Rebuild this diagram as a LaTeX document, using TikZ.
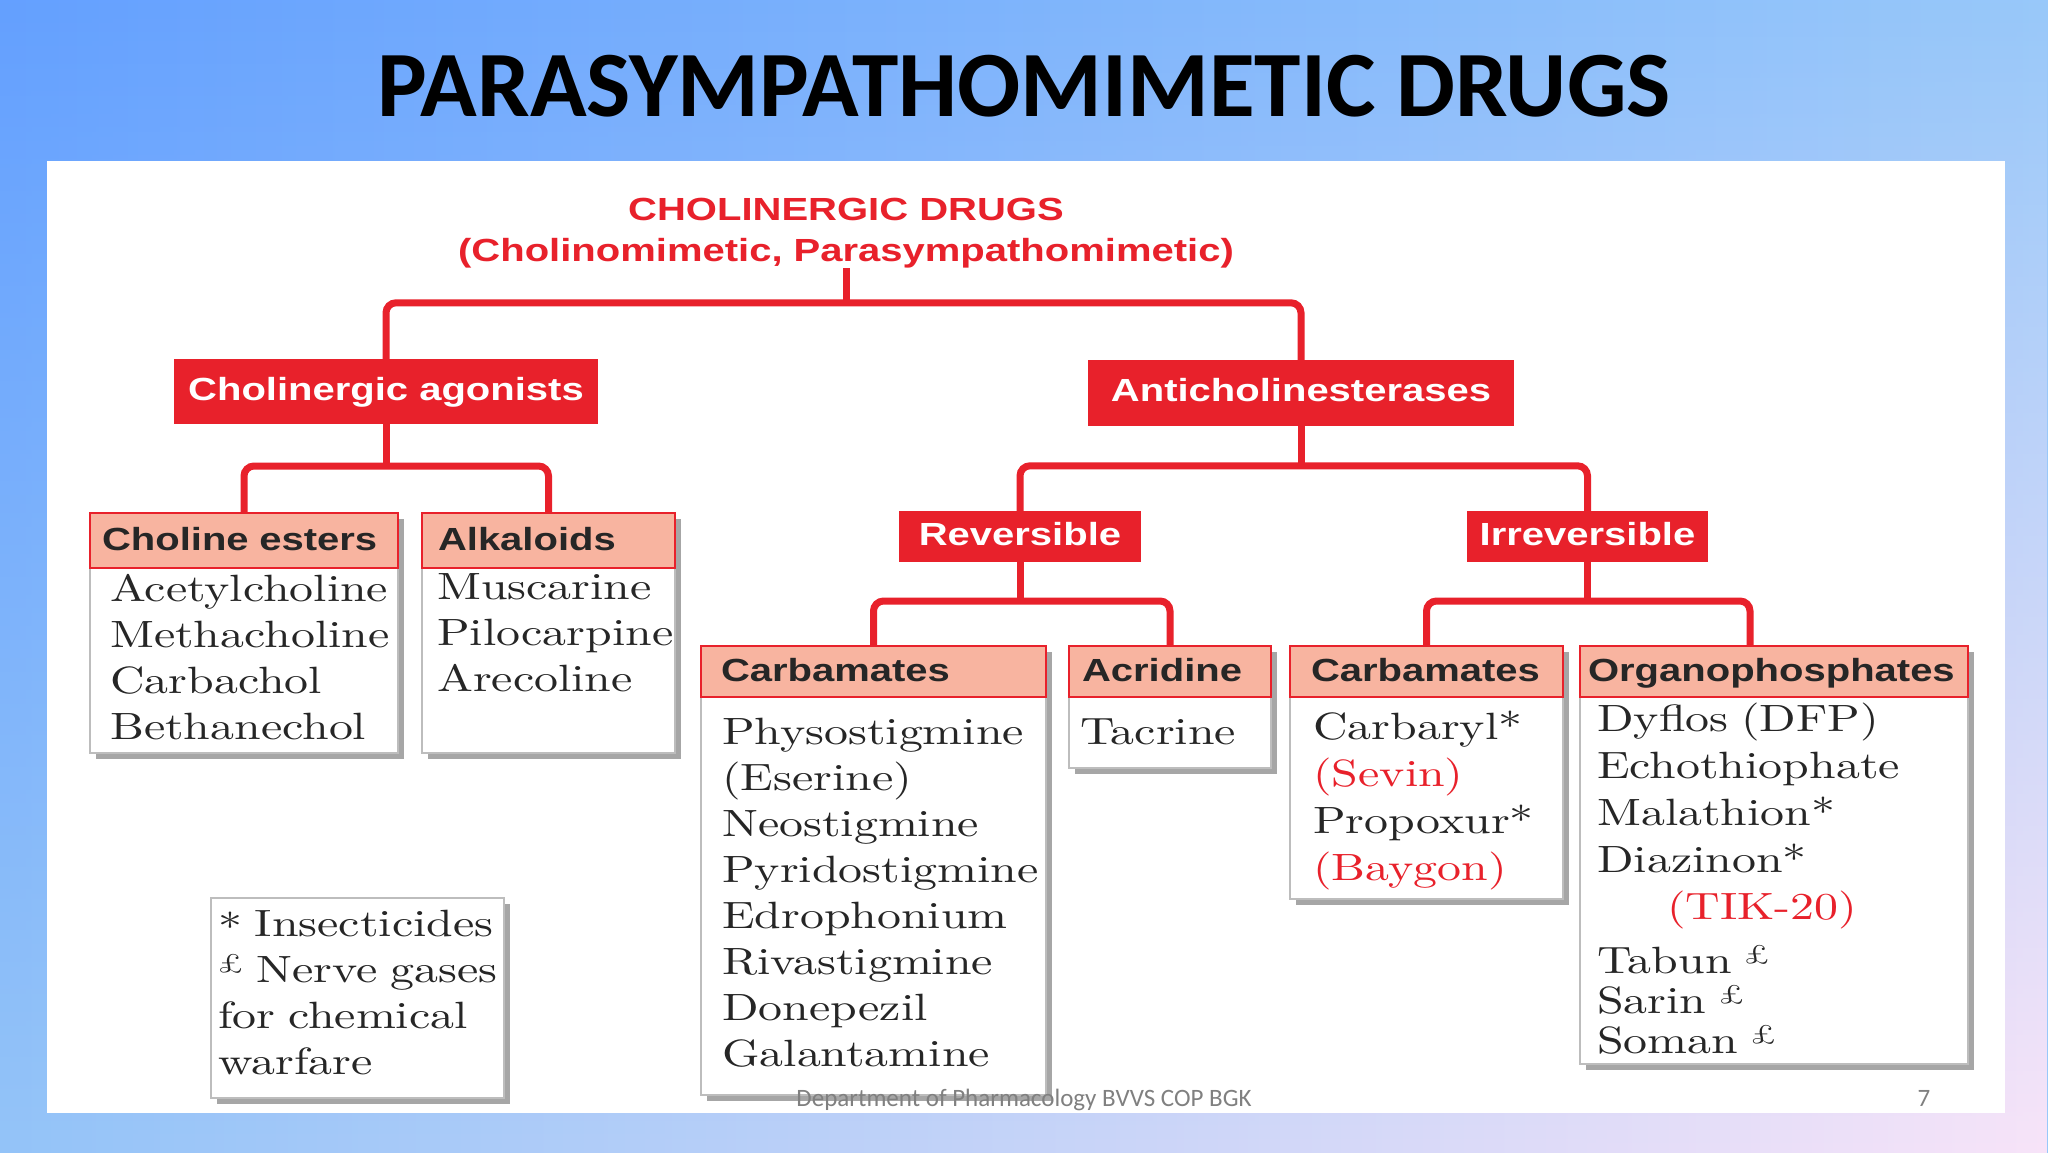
\documentclass[tikz,border=0pt]{standalone}
\usepackage{fontspec}
\usetikzlibrary{shadows,fadings}
\newfontfamily\slidefont{Carlito}
\newfontfamily\boxsans{Liberation Sans}[FakeStretch=1.25]
\newfontfamily\boxserif{lmroman10-regular.otf}[FakeStretch=1.26]
\definecolor{tree}{HTML}{E8212B}
\definecolor{hdrfill}{HTML}{F8B4A0}
\definecolor{ink}{HTML}{262626}
\definecolor{frame}{HTML}{BDBDBD}
\definecolor{boxshade}{HTML}{A6A6A6}
\definecolor{bgUL}{HTML}{64A0FF}
\definecolor{bgUR}{HTML}{98C8FA}
\definecolor{bgLL}{HTML}{94C4F8}
\definecolor{bgLR}{HTML}{F8E4F8}
\tikzset{
  branch/.style={draw=tree,line width=7pt,rounded corners=10pt},
  mainhead/.style={fill=tree,text=white,inner sep=0pt,text height=24pt,text depth=7pt,
    font={\boxsans\bfseries\fontsize{32}{36}\selectfont}},
  subhead/.style={draw=tree,line width=2pt,fill=hdrfill,text=ink,anchor=north west,align=left,
    inner xsep=#1,inner ysep=0pt,minimum height=51pt,text height=25pt,text depth=5pt,
    font={\boxsans\bfseries\fontsize{32}{36}\selectfont}},
  listbox/.style={draw=frame,line width=2pt,fill=white,anchor=north west,inner sep=0pt,
    drop shadow={shadow xshift=6pt,shadow yshift=-6pt,fill=boxshade,opacity=1}},
  druglist/.style={anchor=base west,inner sep=0pt,align=left,text width=420pt,text=ink,
    font={\boxserif\fontsize{38}{46}\selectfont}}
}
\begin{document}
\begin{tikzpicture}[x=1pt,y=-1pt]
\useasboundingbox (0,0) rectangle (2048,1152);
\shade[left color=bgUL,right color=bgUR] (0,0) rectangle (2048,1152);
\shade[left color=bgLL,right color=bgLR,path fading=north] (0,0) rectangle (2048,1152);
\fill[white] (47,161) rectangle (2005,1113);
\node[anchor=base,font={\slidefont\bfseries\fontsize{93.5}{100}\selectfont}] (title) at (1024,116) {PARASYMPATHOMIMETIC DRUGS};

% root and first level
\node[anchor=south,inner sep=0pt,align=center,text=tree,font={\boxsans\bfseries\fontsize{32}{41}\selectfont}] (root) at (846,268)
  {CHOLINERGIC DRUGS\\(Cholinomimetic, Parasympathomimetic)};
\node[mainhead,minimum width=424pt,minimum height=65pt] (agon) at (386,391.5) {Cholinergic agonists};
\node[mainhead,minimum width=426pt,minimum height=66pt] (anti) at (1301,393) {Anticholinesterases};
\node[mainhead,minimum width=242pt,minimum height=51pt] (rev) at (1020,536.5) {Reversible};
\node[mainhead,minimum width=241pt,minimum height=51pt] (irr) at (1587.5,536.5) {Irreversible};

% boxes
\node[listbox,minimum width=308pt,minimum height=240pt] (chestbox) at (89,512) {};
\node[subhead=12pt,text width=284pt,minimum height=55pt] (chest) at (chestbox.north west) {Choline esters};
\node[listbox,minimum width=253pt,minimum height=240pt] (alkbox) at (421,512) {};
\node[subhead=16pt,text width=221pt,minimum height=55pt] (alk) at (alkbox.north west) {Alkaloids};
\node[listbox,minimum width=345pt,minimum height=449pt] (carbRbox) at (700,645) {};
\node[subhead=20pt,text width=305pt] (carbR) at (carbRbox.north west) {Carbamates};
\node[listbox,minimum width=202pt,minimum height=122pt] (acrbox) at (1068,645) {};
\node[subhead=13pt,text width=176pt] (acr) at (acrbox.north west) {Acridine};
\node[listbox,minimum width=273pt,minimum height=253pt] (carbIbox) at (1289,645) {};
\node[subhead=21pt,text width=231pt] (carbI) at (carbIbox.north west) {Carbamates};
\node[listbox,minimum width=388pt,minimum height=418pt] (orgbox) at (1579,645) {};
\node[subhead=8pt,text width=372pt] (org) at (orgbox.north west) {Organophosphates};
\node[listbox,minimum width=293pt,minimum height=200pt] (legendbox) at (210,897) {};

% lists
\node[druglist] (chestlist) at (110,601) {Acetylcholine\\Methacholine\\Carbachol\\Bethanechol};
\node[druglist] (alklist) at (437,599) {Muscarine\\Pilocarpine\\Arecoline};
\node[druglist] (carbRlist) at (722,744) {Physostigmine\\(Eserine)\\Neostigmine\\Pyridostigmine\\Edrophonium\\Rivastigmine\\Donepezil\\Galantamine};
\node[druglist] (acrlist) at (1080,744) {Tacrine};
\node[druglist,font={\boxserif\fontsize{38}{47}\selectfont}] (carbIlist) at (1313,739)
  {Carbaryl*\\\textcolor{tree}{(Sevin)}\\Propoxur*\\\textcolor{tree}{(Baygon)}};
\node[druglist,font={\boxserif\fontsize{38}{47}\selectfont}] (orglist) at (1597,731)
  {Dyflos (DFP)\\Echothiophate\\Malathion*\\Diazinon*\\\hspace*{70pt}\textcolor{tree}{(TIK-20)}};
\node[druglist,font={\boxserif\fontsize{38}{40}\selectfont}] (gaslist) at (1597,973)
  {Tabun \textsuperscript{£}\\Sarin \textsuperscript{£}\\Soman \textsuperscript{£}};
\node[druglist] (legend) at (218,936) {\raisebox{-4pt}{*} Insecticides\\\textsuperscript{£} Nerve gases\\for chemical\\warfare};

% tree
\draw[branch] (root.south) -- ++(0,35);
\draw[branch] (agon.north) -- ++(0,-56) -| (anti.north);
\draw[branch] (agon.south) -- ++(0,42);
\draw[branch] (chest.north) -- ++(0,-46) -| (alk.north);
\draw[branch] (anti.south) -- ++(0,40);
\draw[branch] (rev.north) -- ++(0,-45) -| (irr.north);
\draw[branch] (rev.south) -- ++(0,39);
\draw[branch] (carbR.north) -- ++(0,-44) -| (acr.north);
\draw[branch] (irr.south) -- ++(0,39);
\draw[branch] (carbI.north) -- ++(0,-44) -| ([xshift=-24pt]org.north);

\node[anchor=base,text=black!50,font={\slidefont\fontsize{25}{30}\selectfont}] (footer) at (1024,1106) {Department of Pharmacology BVVS COP BGK};
\node[anchor=base,text=black!50,font={\slidefont\fontsize{25}{30}\selectfont}] (pagenum) at (1924,1106) {7};
\end{tikzpicture}
\end{document}
